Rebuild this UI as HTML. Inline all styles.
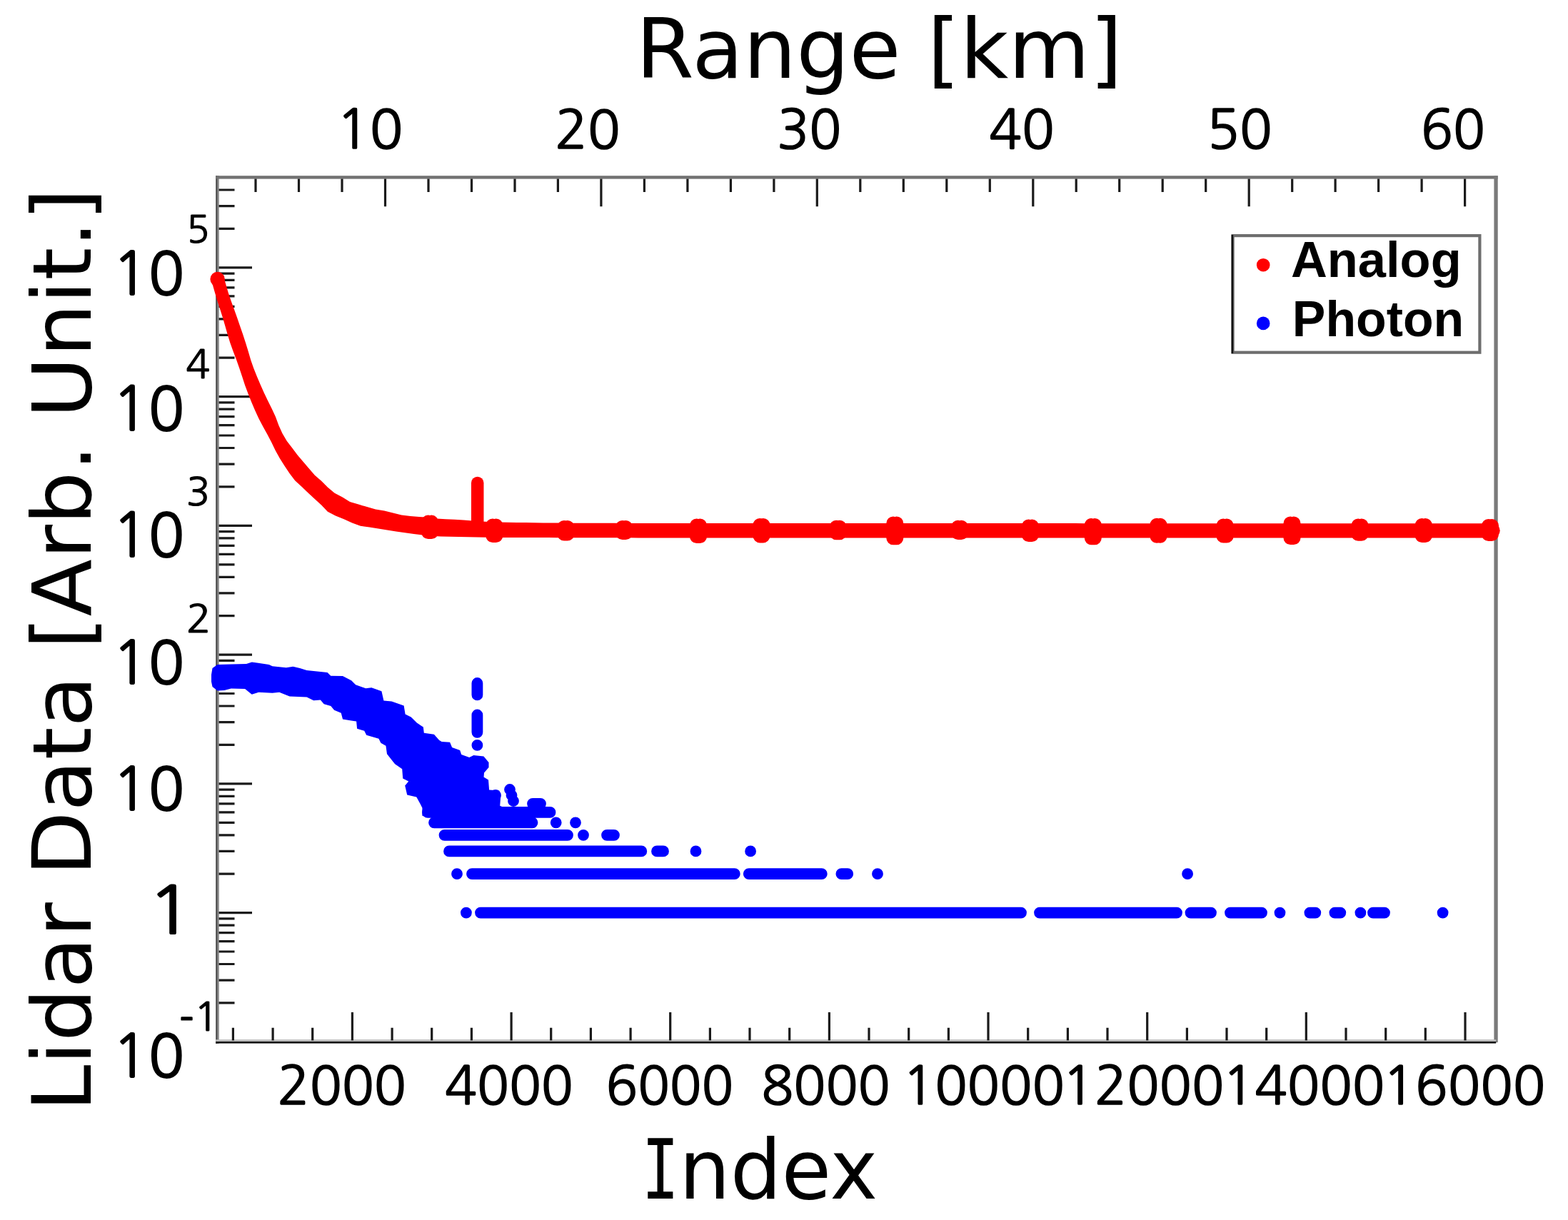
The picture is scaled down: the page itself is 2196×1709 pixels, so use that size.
<!DOCTYPE html>
<html><head><meta charset="utf-8"><title>Lidar Data</title>
<style>html,body{margin:0;padding:0;background:#fff;}body{width:2196px;height:1709px;overflow:hidden;}svg{display:block;}</style>
</head><body>
<svg width="2196" height="1709" viewBox="0 0 2196 1709">
<rect width="2196" height="1709" fill="#fff"/>
<rect x="302.2" y="246" width="2.6" height="1216" fill="#4a4a4a"/><rect x="304.8" y="246" width="2.0" height="1216" fill="#8c8c8c"/><rect x="302.2" y="246.2" width="1795.5" height="4.4" fill="#727272"/><rect x="2092.4" y="246.2" width="5.3" height="1214" fill="#7a7a7a"/><rect x="302.2" y="1456.2" width="1793" height="2.8" fill="#bcbcbc"/><rect x="302.2" y="1459" width="1793" height="2.6" fill="#141414"/>
<path d="M306.5 1404.9L328.5 1404.9 M306.5 1373.1L328.5 1373.1 M306.5 1350.5L328.5 1350.5 M306.5 1333.0L328.5 1333.0 M306.5 1318.7L328.5 1318.7 M306.5 1306.6L328.5 1306.6 M306.5 1296.1L328.5 1296.1 M306.5 1286.9L328.5 1286.9 M306.5 1278.6L353.0 1278.6 M306.5 1224.2L328.5 1224.2 M306.5 1192.4L328.5 1192.4 M306.5 1169.8L328.5 1169.8 M306.5 1152.3L328.5 1152.3 M306.5 1137.9L328.5 1137.9 M306.5 1125.8L328.5 1125.8 M306.5 1115.4L328.5 1115.4 M306.5 1106.1L328.5 1106.1 M306.5 1097.8L353.0 1097.8 M306.5 1043.4L328.5 1043.4 M306.5 1011.6L328.5 1011.6 M306.5 989.0L328.5 989.0 M306.5 971.5L328.5 971.5 M306.5 957.2L328.5 957.2 M306.5 945.1L328.5 945.1 M306.5 934.6L328.5 934.6 M306.5 925.4L328.5 925.4 M306.5 917.1L353.0 917.1 M306.5 862.7L328.5 862.7 M306.5 830.9L328.5 830.9 M306.5 808.3L328.5 808.3 M306.5 790.8L328.5 790.8 M306.5 776.4L328.5 776.4 M306.5 764.3L328.5 764.3 M306.5 753.9L328.5 753.9 M306.5 744.6L328.5 744.6 M306.5 736.3L353.0 736.3 M306.5 681.9L328.5 681.9 M306.5 650.1L328.5 650.1 M306.5 627.5L328.5 627.5 M306.5 610.0L328.5 610.0 M306.5 595.7L328.5 595.7 M306.5 583.6L328.5 583.6 M306.5 573.1L328.5 573.1 M306.5 563.9L328.5 563.9 M306.5 555.6L353.0 555.6 M306.5 501.2L328.5 501.2 M306.5 469.4L328.5 469.4 M306.5 446.8L328.5 446.8 M306.5 429.3L328.5 429.3 M306.5 414.9L328.5 414.9 M306.5 402.8L328.5 402.8 M306.5 392.4L328.5 392.4 M306.5 383.1L328.5 383.1 M306.5 374.8L353.0 374.8 M306.5 320.4L328.5 320.4 M306.5 288.6L328.5 288.6 M306.5 266.0L328.5 266.0 M358.0 250.5L358.0 269.0 M418.5 250.5L418.5 269.0 M479.0 250.5L479.0 269.0 M539.5 250.5L539.5 289.2 M600.0 250.5L600.0 269.0 M660.5 250.5L660.5 269.0 M721.0 250.5L721.0 269.0 M781.4 250.5L781.4 269.0 M841.9 250.5L841.9 289.2 M902.4 250.5L902.4 269.0 M962.9 250.5L962.9 269.0 M1023.4 250.5L1023.4 269.0 M1083.9 250.5L1083.9 269.0 M1144.3 250.5L1144.3 289.2 M1204.8 250.5L1204.8 269.0 M1265.3 250.5L1265.3 269.0 M1325.8 250.5L1325.8 269.0 M1386.3 250.5L1386.3 269.0 M1446.8 250.5L1446.8 289.2 M1507.2 250.5L1507.2 269.0 M1567.7 250.5L1567.7 269.0 M1628.2 250.5L1628.2 269.0 M1688.7 250.5L1688.7 269.0 M1749.2 250.5L1749.2 289.2 M1809.7 250.5L1809.7 269.0 M1870.1 250.5L1870.1 269.0 M1930.6 250.5L1930.6 269.0 M1991.1 250.5L1991.1 269.0 M2051.6 250.5L2051.6 289.2 M326.4 1457.5L326.4 1439.8 M382.1 1457.5L382.1 1439.8 M437.7 1457.5L437.7 1439.8 M493.4 1457.5L493.4 1418.1 M549.1 1457.5L549.1 1439.8 M604.7 1457.5L604.7 1439.8 M660.4 1457.5L660.4 1439.8 M716.1 1457.5L716.1 1418.1 M771.7 1457.5L771.7 1439.8 M827.4 1457.5L827.4 1439.8 M883.1 1457.5L883.1 1439.8 M938.7 1457.5L938.7 1418.1 M994.4 1457.5L994.4 1439.8 M1050.0 1457.5L1050.0 1439.8 M1105.7 1457.5L1105.7 1439.8 M1161.4 1457.5L1161.4 1418.1 M1217.0 1457.5L1217.0 1439.8 M1272.7 1457.5L1272.7 1439.8 M1328.4 1457.5L1328.4 1439.8 M1384.0 1457.5L1384.0 1418.1 M1439.7 1457.5L1439.7 1439.8 M1495.4 1457.5L1495.4 1439.8 M1551.0 1457.5L1551.0 1439.8 M1606.7 1457.5L1606.7 1418.1 M1662.4 1457.5L1662.4 1439.8 M1718.0 1457.5L1718.0 1439.8 M1773.7 1457.5L1773.7 1439.8 M1829.3 1457.5L1829.3 1418.1 M1885.0 1457.5L1885.0 1439.8 M1940.7 1457.5L1940.7 1439.8 M1996.3 1457.5L1996.3 1439.8 M2052.0 1457.5L2052.0 1418.1" stroke="#1a1a1a" stroke-width="3.2" fill="none"/>
<text transform="translate(471.00 207.66) scale(1.0287 1)" font-size="74.85" stroke="#000" stroke-width="1.66" stroke-linejoin="miter" style="font-family:NanumGothic,'Liberation Sans',sans-serif">10</text><text transform="translate(777.33 207.67) scale(1.0145 1)" font-size="74.28" stroke="#000" stroke-width="1.66" stroke-linejoin="miter" style="font-family:NanumGothic,'Liberation Sans',sans-serif">20</text><text transform="translate(1088.34 207.66) scale(0.9928 1)" font-size="74.85" stroke="#000" stroke-width="1.66" stroke-linejoin="miter" style="font-family:NanumGothic,'Liberation Sans',sans-serif">30</text><text transform="translate(1385.24 207.66) scale(1.0076 1)" font-size="74.85" stroke="#000" stroke-width="1.66" stroke-linejoin="miter" style="font-family:NanumGothic,'Liberation Sans',sans-serif">40</text><text transform="translate(1690.30 207.66) scale(1.0070 1)" font-size="74.85" stroke="#000" stroke-width="1.66" stroke-linejoin="miter" style="font-family:NanumGothic,'Liberation Sans',sans-serif">50</text><text transform="translate(1990.05 207.66) scale(0.9892 1)" font-size="74.85" stroke="#000" stroke-width="1.66" stroke-linejoin="miter" style="font-family:NanumGothic,'Liberation Sans',sans-serif">60</text><text transform="translate(388.58 1546.58) scale(1.0129 1)" font-size="73.42" stroke="#000" stroke-width="1.65" stroke-linejoin="miter" style="font-family:NanumGothic,'Liberation Sans',sans-serif">2000</text><text transform="translate(623.09 1546.57) scale(1.0021 1)" font-size="73.99" stroke="#000" stroke-width="1.65" stroke-linejoin="miter" style="font-family:NanumGothic,'Liberation Sans',sans-serif">4000</text><text transform="translate(848.55 1546.57) scale(0.9956 1)" font-size="73.99" stroke="#000" stroke-width="1.65" stroke-linejoin="miter" style="font-family:NanumGothic,'Liberation Sans',sans-serif">6000</text><text transform="translate(1066.15 1546.57) scale(1.0063 1)" font-size="73.99" stroke="#000" stroke-width="1.65" stroke-linejoin="miter" style="font-family:NanumGothic,'Liberation Sans',sans-serif">8000</text><text transform="translate(1263.69 1546.57) scale(1.0142 1)" font-size="73.99" stroke="#000" stroke-width="1.65" stroke-linejoin="miter" style="font-family:NanumGothic,'Liberation Sans',sans-serif">10000</text><text transform="translate(1487.62 1546.58) scale(1.0188 1)" font-size="73.42" stroke="#000" stroke-width="1.65" stroke-linejoin="miter" style="font-family:NanumGothic,'Liberation Sans',sans-serif">12000</text><text transform="translate(1711.78 1546.57) scale(1.0156 1)" font-size="73.99" stroke="#000" stroke-width="1.65" stroke-linejoin="miter" style="font-family:NanumGothic,'Liberation Sans',sans-serif">14000</text><text transform="translate(1936.58 1546.57) scale(1.0156 1)" font-size="73.99" stroke="#000" stroke-width="1.65" stroke-linejoin="miter" style="font-family:NanumGothic,'Liberation Sans',sans-serif">16000</text><text transform="translate(157.24 412.64) scale(1.0070 1)" font-size="82.86" stroke="#000" stroke-width="1.83" stroke-linejoin="miter" style="font-family:NanumGothic,'Liberation Sans',sans-serif">10</text><text transform="translate(261.43 339.92) scale(0.9963 1)" font-size="52.84" stroke="#000" stroke-width="1.14" stroke-linejoin="miter" style="font-family:NanumGothic,'Liberation Sans',sans-serif">5</text><text transform="translate(157.24 602.80) scale(0.9874 1)" font-size="84.51" stroke="#000" stroke-width="1.86" stroke-linejoin="miter" style="font-family:NanumGothic,'Liberation Sans',sans-serif">10</text><text transform="translate(260.16 530.39) scale(1.0063 1)" font-size="55.74" stroke="#000" stroke-width="1.18" stroke-linejoin="miter" style="font-family:NanumGothic,'Liberation Sans',sans-serif">4</text><text transform="translate(157.24 780.19) scale(0.9844 1)" font-size="84.77" stroke="#000" stroke-width="1.87" stroke-linejoin="miter" style="font-family:NanumGothic,'Liberation Sans',sans-serif">10</text><text transform="translate(260.95 707.69) scale(1.0025 1)" font-size="54.51" stroke="#000" stroke-width="1.19" stroke-linejoin="miter" style="font-family:NanumGothic,'Liberation Sans',sans-serif">3</text><text transform="translate(157.24 957.74) scale(1.0055 1)" font-size="82.99" stroke="#000" stroke-width="1.83" stroke-linejoin="miter" style="font-family:NanumGothic,'Liberation Sans',sans-serif">10</text><text transform="translate(260.98 885.50) scale(1.0464 1)" font-size="54.53" stroke="#000" stroke-width="1.17" stroke-linejoin="miter" style="font-family:NanumGothic,'Liberation Sans',sans-serif">2</text><text transform="translate(157.24 1134.95) scale(1.0133 1)" font-size="82.35" stroke="#000" stroke-width="1.81" stroke-linejoin="miter" style="font-family:NanumGothic,'Liberation Sans',sans-serif">10</text><text transform="translate(157.24 1508.54) scale(1.0055 1)" font-size="82.99" stroke="#000" stroke-width="1.83" stroke-linejoin="miter" style="font-family:NanumGothic,'Liberation Sans',sans-serif">10</text><text transform="translate(250.66 1443.79) scale(1.0322 1)" font-size="55.87" stroke="#000" stroke-width="1.19" stroke-linejoin="miter" style="font-family:NanumGothic,'Liberation Sans',sans-serif"><tspan dy="5.3">-</tspan><tspan dy="-5.3">1</tspan></text><text transform="translate(206.17 1307.60) scale(1.1711 1)" font-size="91.38" stroke="#000" stroke-width="1.97" stroke-linejoin="miter" style="font-family:NanumGothic,'Liberation Sans',sans-serif">1</text><text transform="translate(890.60 109.00) scale(1.0181 1)" font-size="115.0" style="font-family:'DejaVu Sans','Liberation Sans',sans-serif">Range [km]</text><text transform="translate(898.68 1679.40) scale(0.9765 1)" font-size="116.0" style="font-family:'DejaVu Sans','Liberation Sans',sans-serif"><tspan style="font-family:'DejaVu Sans Mono','Liberation Mono',monospace" textLength="53.5" lengthAdjust="spacingAndGlyphs">I</tspan>ndex</text><text transform="translate(126.90 1556.96) rotate(-90) scale(1.0237 1)" font-size="114.7" style="font-family:'DejaVu Sans','Liberation Sans',sans-serif">Lidar Data [Arb. Unit.]</text>
<path d="M296.0 945.0 L297.5 936.0 L304.6 930.9 L323.8 930.4 L345.0 930.0 L352.7 927.5 L360.0 928.5 L376.7 930.9 L381.5 933.3 L400.8 935.2 L410.4 933.8 L420.0 936.0 L429.6 939.0 L458.5 941.9 L463.3 946.7 L480.0 947.1 L492.1 953.2 L498.1 959.2 L512.2 964.2 L520.3 963.2 L534.4 968.3 L537.4 981.4 L548.5 982.4 L565.6 988.4 L567.6 1000.5 L575.7 1004.5 L583.8 1012.6 L592.8 1018.6 L593.8 1026.7 L607.9 1028.7 L615.0 1036.8 L618.6 1039.1 L630.1 1039.8 L633.1 1046.9 L644.2 1050.9 L646.2 1056.9 L657.3 1061.0 L663.3 1057.9 L677.4 1059.5 L684.5 1068.0 L684.5 1075.0 L678.0 1082.4 L677.5 1088.4 L684.0 1092.5 L685.1 1106.6 L699.2 1107.6 L701.2 1115.6 L700.2 1128.7 L707.2 1131.7 L712.0 1131.0 L712.0 1145.0 L615.6 1145.0 L601.4 1145.0 L591.4 1142.8 L591.4 1131.7 L588.4 1125.7 L583.3 1116.6 L570.2 1113.6 L567.2 1100.5 L572.2 1094.5 L564.2 1090.4 L563.2 1077.3 L553.1 1070.3 L542.0 1056.2 L540.4 1044.8 L533.4 1040.8 L530.4 1034.8 L513.2 1029.7 L510.2 1023.7 L500.1 1020.7 L499.1 1010.6 L492.1 1009.6 L480.0 1007.6 L477.7 998.7 L468.1 994.8 L463.3 989.0 L453.7 986.2 L448.8 980.4 L439.2 981.3 L429.6 976.5 L405.6 975.6 L391.2 969.8 L381.5 970.8 L362.3 969.8 L352.7 972.7 L343.1 965.0 L323.8 964.5 L314.2 966.9 L304.6 967.4 L297.5 962.0 L296.0 955.0Z" fill="#00f"/><path d="M652.9 1278.6L652.9 1278.6 M673.0 1278.6L1430.0 1278.6 M1456.0 1278.6L1648.0 1278.6 M1667.5 1278.6L1696.0 1278.6 M1723.0 1278.6L1767.0 1278.6 M1792.5 1278.6L1792.5 1278.6 M1834.4 1278.6L1842.3 1278.6 M1869.4 1278.6L1877.3 1278.6 M1905.4 1278.6L1905.4 1278.6 M1923.0 1278.6L1939.0 1278.6 M2020.6 1278.6L2020.6 1278.6 M640.0 1224.2L640.0 1224.2 M661.0 1224.2L1028.8 1224.2 M1048.8 1224.2L1150.8 1224.2 M1178.4 1224.2L1187.2 1224.2 M1229.0 1224.2L1229.0 1224.2 M1663.1 1224.2L1663.1 1224.2 M629.0 1192.4L898.3 1192.4 M920.0 1192.4L929.0 1192.4 M974.5 1192.4L974.5 1192.4 M1051.1 1192.4L1051.1 1192.4 M622.5 1169.8L795.0 1169.8 M817.0 1169.8L817.0 1169.8 M850.0 1169.8L860.0 1169.8 M608.0 1152.3L745.5 1152.3 M778.7 1152.3L778.7 1152.3 M806.0 1152.3L806.0 1152.3 M599.0 1137.9L770.5 1137.9 M746.0 1125.8L757.0 1125.8 M668.4 957.0L668.4 973.4 M668.4 1001.5L668.4 1025.8 M668.4 1043.9L668.4 1043.9 M714.0 1106.0L714.0 1106.0 M716.5 1114.0L716.5 1114.0 M719.0 1122.0L719.0 1122.0 M694.0 1114.0L694.0 1114.0" stroke="#00f" stroke-width="15.8" stroke-linecap="round" fill="none"/>
<path d="M313.0 386.0 L316.2 398.0 L319.7 409.9 L323.7 421.7 L328.0 433.4 L332.1 445.1 L336.2 456.9 L340.2 468.6 L344.1 480.4 L347.7 492.3 L351.2 504.3 L355.3 516.0 L359.9 527.5 L364.8 539.0 L369.8 550.3 L375.2 561.5 L380.8 572.7 L386.0 584.0 L390.3 595.7 L395.4 607.0 L401.7 617.7 L409.2 627.6 L416.7 637.5 L424.8 646.9 L432.9 656.4 L440.9 665.8 L450.4 673.9 L459.1 682.8 L468.7 690.7 L479.7 696.5 L490.1 703.0 L502.1 706.5 L514.0 710.1 L526.0 713.4 L538.3 715.4 L550.3 718.4 L562.4 721.5 L574.7 723.1 L587.1 723.9 L599.5 724.7 L611.8 726.6 L624.2 727.3 L636.6 727.7 L649.0 728.6 L661.4 729.6 L673.8 730.4 L686.2 731.0 L698.7 731.5 L711.1 731.7 L723.5 731.9 L735.9 732.1 L748.4 732.3 L760.8 732.4 L773.2 732.5 L785.7 732.6 L798.1 732.7 L810.5 732.7 L823.0 732.7 L835.4 732.8 L847.8 732.8 L860.3 732.8 L872.7 732.9 L885.1 732.9 L897.6 732.9 L910.0 732.9 L922.4 732.9 L934.9 733.0 L947.3 733.0 L959.7 733.0 L972.2 733.0 L984.6 733.0 L997.0 733.0 L1009.5 733.0 L1021.9 733.0 L1034.3 733.0 L1046.7 733.0 L1059.2 733.0 L1071.6 733.0 L1084.0 733.0 L1096.5 733.0 L1108.9 733.0 L1121.3 733.0 L1133.8 733.0 L1146.2 733.1 L1158.6 733.1 L1171.1 733.1 L1183.5 733.1 L1195.9 733.1 L1208.4 733.1 L1220.8 733.1 L1233.2 733.1 L1245.7 733.1 L1258.1 733.1 L1270.5 733.1 L1282.9 733.1 L1295.4 733.1 L1307.8 733.1 L1320.2 733.1 L1332.7 733.1 L1345.1 733.1 L1357.5 733.1 L1370.0 733.1 L1382.4 733.1 L1394.8 733.1 L1407.3 733.1 L1419.7 733.1 L1432.1 733.1 L1444.6 733.1 L1457.0 733.1 L1469.4 733.1 L1481.9 733.1 L1494.3 733.1 L1506.7 733.1 L1519.1 733.2 L1531.6 733.2 L1544.0 733.2 L1556.4 733.2 L1568.9 733.2 L1581.3 733.2 L1593.7 733.2 L1606.2 733.2 L1618.6 733.2 L1631.0 733.2 L1643.5 733.2 L1655.9 733.2 L1668.3 733.2 L1680.8 733.2 L1693.2 733.2 L1705.6 733.2 L1718.1 733.2 L1730.5 733.2 L1742.9 733.2 L1755.3 733.2 L1767.8 733.2 L1780.2 733.2 L1792.6 733.2 L1805.1 733.2 L1817.5 733.2 L1829.9 733.2 L1842.4 733.2 L1854.8 733.2 L1867.2 733.2 L1879.7 733.2 L1892.1 733.2 L1904.5 733.2 L1917.0 733.2 L1929.4 733.2 L1941.8 733.2 L1954.3 733.2 L1966.7 733.2 L1979.1 733.2 L1991.5 733.2 L2004.0 733.2 L2016.4 733.2 L2028.8 733.2 L2041.3 733.2 L2053.7 733.2 L2066.1 733.2 L2078.6 733.2 L2091.0 733.2 L2091.0 753.5 L2078.4 753.5 L2065.8 753.5 L2053.2 753.5 L2040.6 753.5 L2028.0 753.5 L2015.4 753.5 L2002.8 753.5 L1990.2 753.5 L1977.6 753.5 L1965.0 753.5 L1952.4 753.5 L1939.8 753.5 L1927.2 753.5 L1914.6 753.5 L1902.1 753.5 L1889.5 753.5 L1876.9 753.5 L1864.3 753.5 L1851.7 753.5 L1839.1 753.5 L1826.5 753.5 L1813.9 753.5 L1801.3 753.5 L1788.7 753.5 L1776.1 753.5 L1763.5 753.5 L1750.9 753.5 L1738.3 753.5 L1725.7 753.5 L1713.1 753.5 L1700.5 753.5 L1687.9 753.5 L1675.3 753.5 L1662.7 753.5 L1650.1 753.5 L1637.5 753.5 L1624.9 753.5 L1612.3 753.5 L1599.7 753.5 L1587.1 753.5 L1574.5 753.5 L1561.9 753.5 L1549.4 753.5 L1536.8 753.5 L1524.2 753.5 L1511.6 753.5 L1499.0 753.5 L1486.4 753.5 L1473.8 753.5 L1461.2 753.5 L1448.6 753.5 L1436.0 753.5 L1423.4 753.5 L1410.8 753.5 L1398.2 753.5 L1385.6 753.5 L1373.0 753.5 L1360.4 753.5 L1347.8 753.5 L1335.2 753.5 L1322.6 753.5 L1310.0 753.5 L1297.4 753.5 L1284.8 753.5 L1272.2 753.5 L1259.6 753.5 L1247.0 753.5 L1234.4 753.5 L1221.8 753.5 L1209.2 753.5 L1196.7 753.5 L1184.1 753.5 L1171.5 753.5 L1158.9 753.5 L1146.3 753.5 L1133.7 753.5 L1121.1 753.5 L1108.5 753.5 L1095.9 753.5 L1083.3 753.5 L1070.7 753.5 L1058.1 753.5 L1045.5 753.5 L1032.9 753.5 L1020.3 753.5 L1007.7 753.5 L995.1 753.5 L982.5 753.5 L969.9 753.5 L957.3 753.5 L944.7 753.5 L932.1 753.4 L919.5 753.4 L906.9 753.4 L894.3 753.4 L881.7 753.3 L869.1 753.3 L856.5 753.3 L844.0 753.3 L831.4 753.2 L818.8 753.2 L806.2 753.2 L793.6 753.2 L781.0 753.2 L768.4 753.1 L755.8 753.1 L743.2 753.1 L730.6 753.1 L718.0 753.1 L705.4 753.0 L692.8 752.9 L680.2 752.7 L667.6 752.5 L655.0 752.2 L642.4 752.0 L629.8 751.7 L617.2 751.4 L604.7 750.7 L592.1 749.5 L579.6 748.0 L567.1 746.2 L554.7 744.4 L542.2 742.4 L529.8 740.4 L517.3 738.6 L504.8 736.8 L493.2 732.4 L481.7 727.2 L469.9 722.4 L458.9 716.7 L450.1 707.6 L440.8 699.0 L431.6 690.4 L422.5 681.7 L413.2 673.3 L405.6 663.2 L398.6 652.7 L391.8 642.1 L385.7 631.1 L380.3 619.7 L374.4 608.6 L368.3 597.6 L362.5 586.4 L357.2 575.0 L352.3 563.4 L347.6 551.7 L343.2 539.9 L339.3 527.9 L335.3 515.9 L331.1 504.1 L326.6 492.3 L322.4 480.4 L318.7 468.4 L315.2 456.3 L311.7 444.2 L307.9 432.2 L304.0 420.2 L300.4 408.1 L297.0 396.0Z" fill="#f00"/><circle cx="304.6" cy="391.0" r="10.2" fill="#f00"/><circle cx="2090.5" cy="743.3" r="10.2" fill="#f00"/>
<path d="M668.7 676.5L668.7 735" stroke="#f00" stroke-width="17.5" stroke-linecap="round"/><path d="M599.6 731.2L599.6 745.4 M604.4 731.2L604.4 745.4 M689.9 736.1L689.9 750.4 M694.7 736.1L694.7 750.4 M790.0 738.6L790.0 747.9 M794.8 738.6L794.8 747.9 M871.6 738.6L871.6 746.4 M876.4 738.6L876.4 746.4 M975.6 736.1L975.6 751.4 M980.4 736.1L980.4 751.4 M1064.1 735.6L1064.1 750.8 M1068.9 735.6L1068.9 750.8 M1171.2 738.4L1171.2 746.7 M1176.0 738.4L1176.0 746.7 M1250.9 733.0L1250.9 753.6 M1255.7 733.0L1255.7 753.6 M1341.6 738.4L1341.6 746.4 M1346.4 738.4L1346.4 746.4 M1440.5 737.1L1440.5 749.4 M1445.3 737.1L1445.3 749.4 M1528.4 735.6L1528.4 753.6 M1533.2 735.6L1533.2 753.6 M1620.1 735.4L1620.1 751.1 M1624.9 735.4L1624.9 751.1 M1713.2 736.1L1713.2 750.9 M1718.0 736.1L1718.0 750.9 M1807.1 733.0L1807.1 753.4 M1811.9 733.0L1811.9 753.4 M1902.1 736.1L1902.1 748.2 M1906.9 736.1L1906.9 748.2 M1991.4 735.6L1991.4 750.4 M1996.2 735.6L1996.2 750.4 M2084.6 736.6L2084.6 748.4 M2089.4 736.6L2089.4 748.4" stroke="#f00" stroke-width="19.2" stroke-linecap="round" fill="none"/>
<rect x="1726.6" y="330.1" width="345.8" height="163.6" fill="#fff" stroke="#6e6e6e" stroke-width="4.2"/><rect x="1724.6" y="329" width="2.6" height="166" fill="#111"/><circle cx="1769.2" cy="371.2" r="9.3" fill="#f00"/><circle cx="1769.2" cy="452.9" r="9.3" fill="#00f"/>
<text transform="translate(1807.95 387.80) scale(1.0066 1)" font-size="70.0" font-weight="700" style="font-family:'Liberation Sans',Arial,sans-serif">Analog</text><text transform="translate(1809.82 471.20) scale(0.9974 1)" font-size="70.0" font-weight="700" style="font-family:'Liberation Sans',Arial,sans-serif">Photon</text>
</svg>
</body></html>
